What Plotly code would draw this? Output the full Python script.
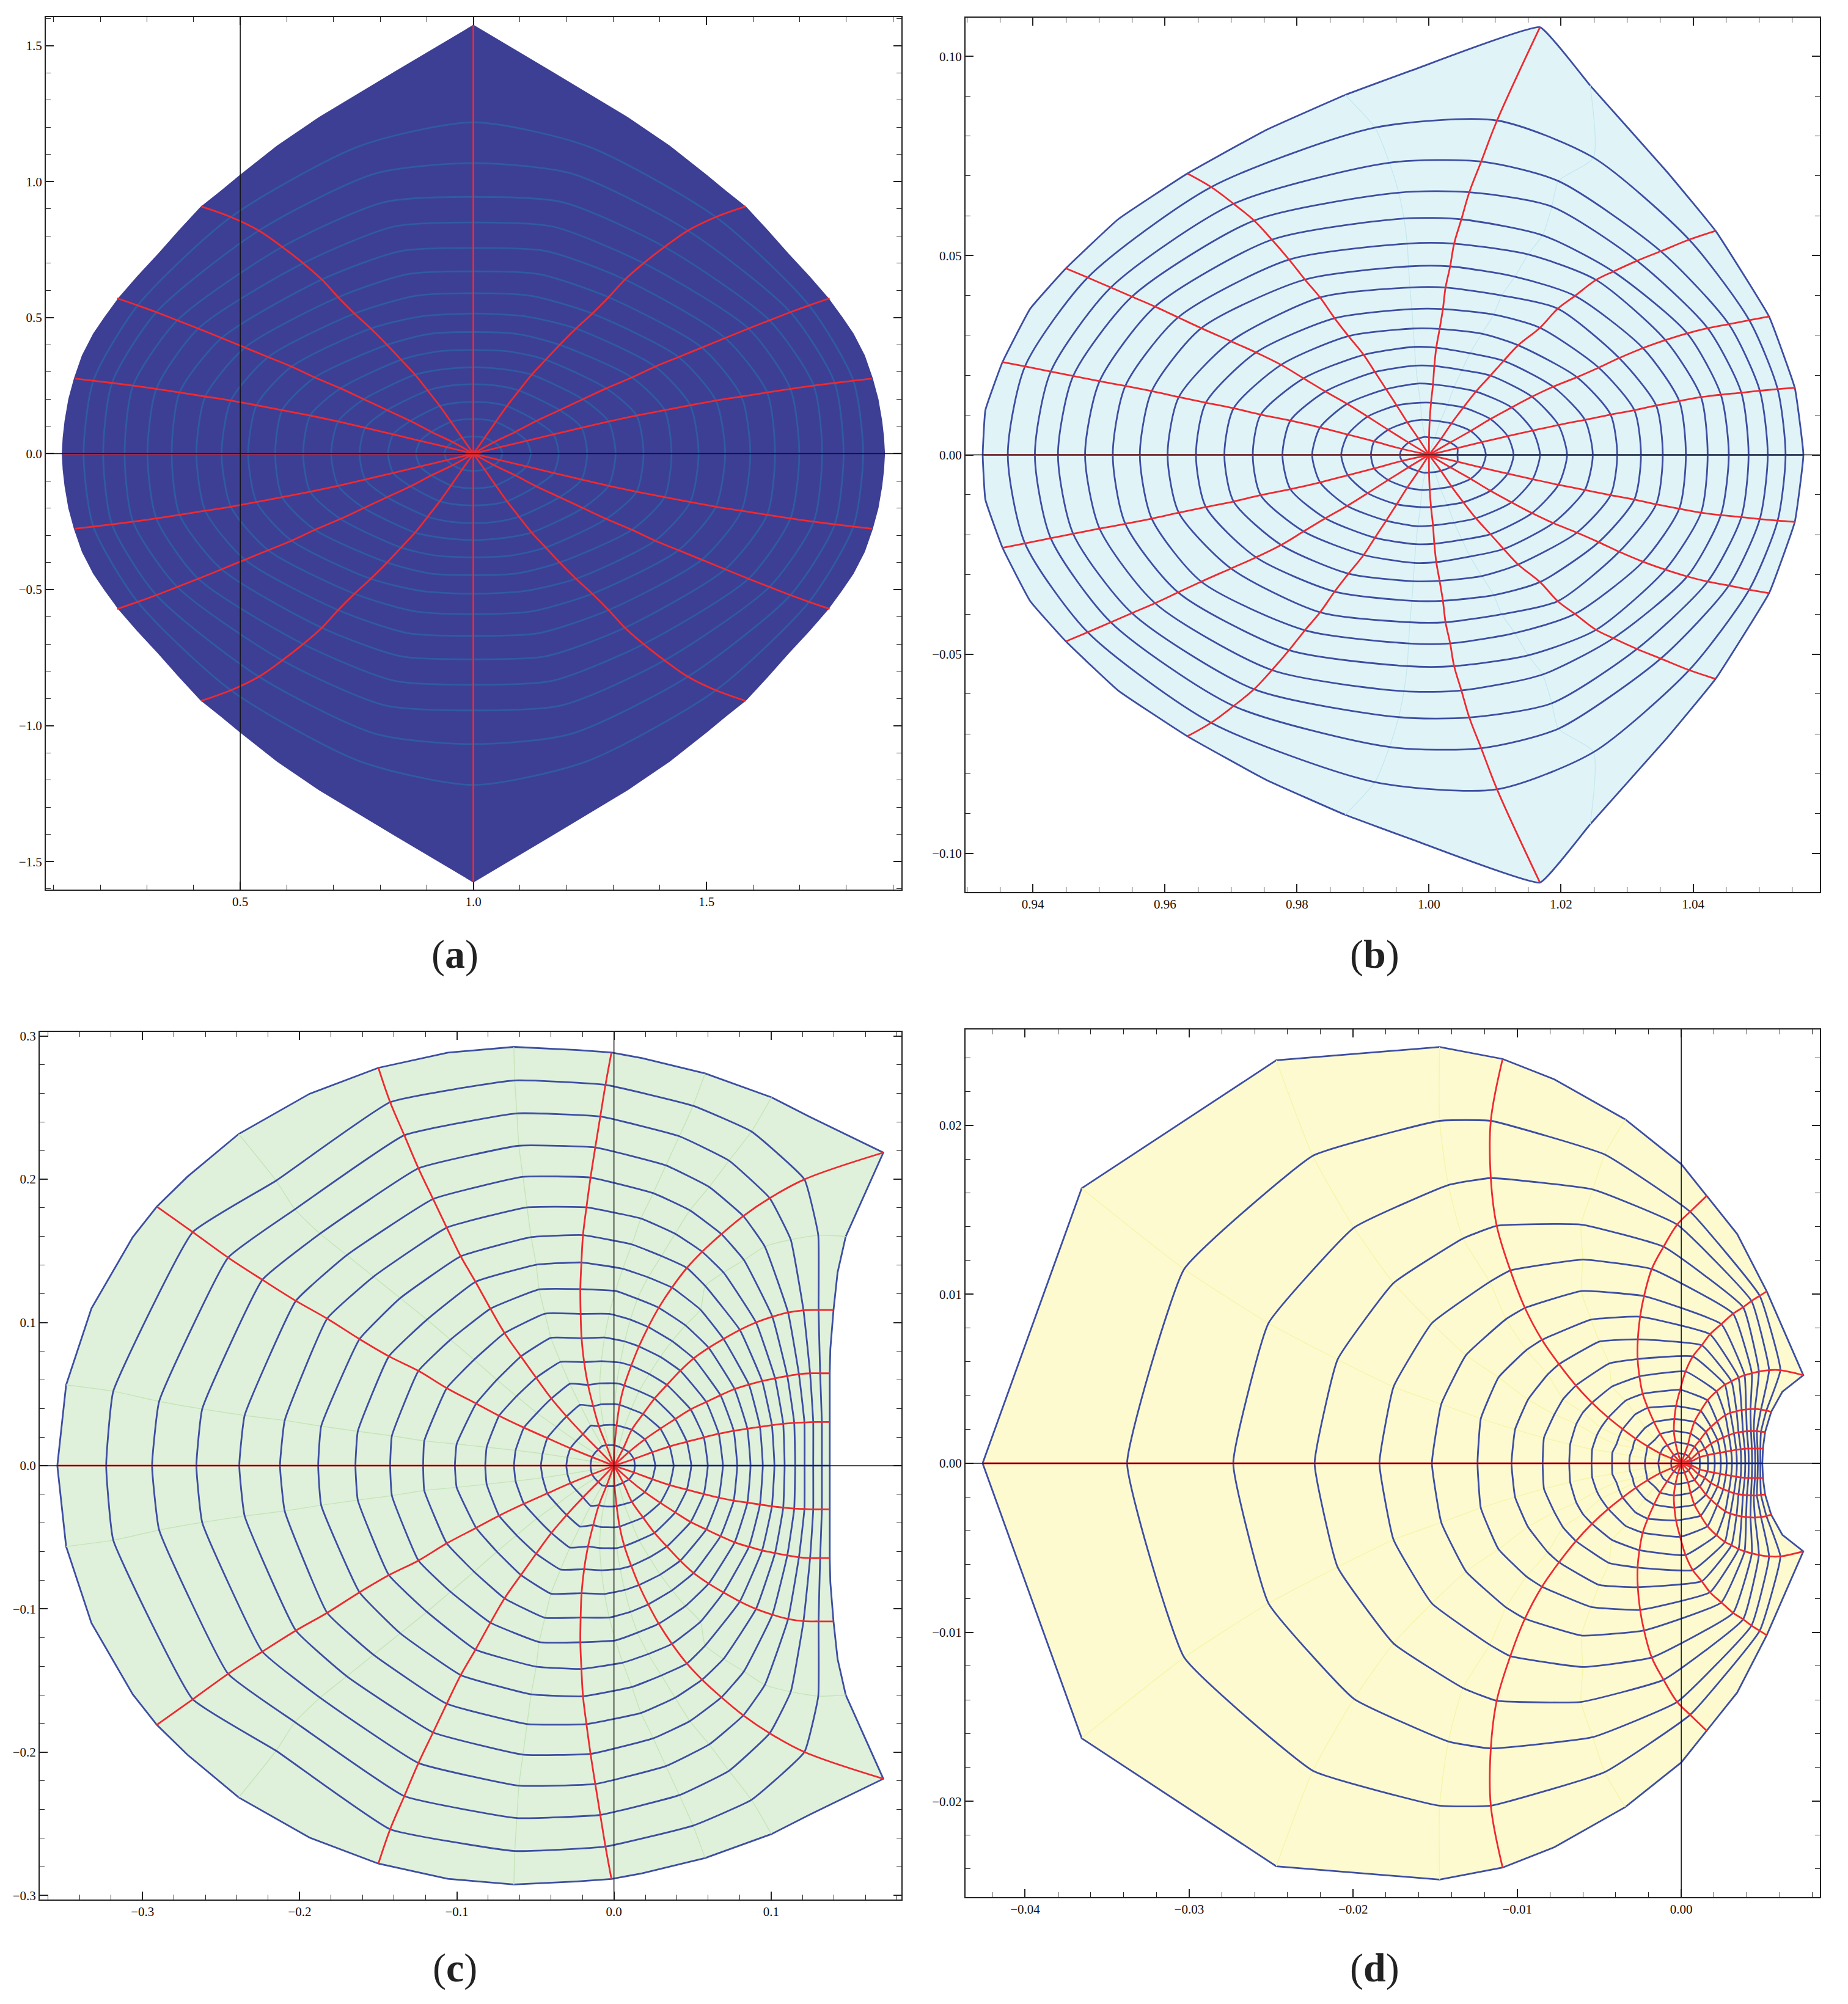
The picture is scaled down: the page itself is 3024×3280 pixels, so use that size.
import numpy as np
import plotly.graph_objects as go

# every column runs from the outer boundary (first value) to the innermost ring (last value)
# values are offsets from the centre point of each panel
zero = [0] * 16

# panel a, left half (the right half is its mirror image)
a_bx = [-.881, -.879, -.875, -.867, -.855, -.838, -.814, -.79, -.76, -.72, -.675, -.63, -.584, -.54, -.5, -.42, -.33, -.165, 0]
a_by = [0, .06, .12, .2, .276, .36, .44, .5, .571, .65, .733, .82, .905, .965, 1.022, 1.13, 1.235, 1.405, 1.573]
a_0x = [-.881, -.836, -.794, -.748, -.699, -.647, -.594, -.540, -.483, -.425, -.365, -.305, -.244, -.183, -.123, -.062]
a_1x = [-.855, -.815, -.775, -.73, -.68, -.63, -.575, -.52, -.465, -.41, -.35, -.29, -.232, -.172, -.114, -.057]
a_1y = [.276, .268, .26, .25, .238, .225, .21, .195, .178, .16, .14, .118, .095, .071, .047, .024]
a_2x = [-.764, -.72, -.68, -.635, -.59, -.54, -.49, -.44, -.39, -.34, -.285, -.235, -.185, -.135, -.09, -.044]
a_2y = [.571, .545, .52, .49, .46, .425, .39, .355, .32, .28, .24, .2, .16, .12, .08, .042]
a_3x = [-.584, -.52, -.46, -.41, -.365, -.325, -.29, -.255, -.22, -.185, -.155, -.125, -.098, -.072, -.048, -.024]
a_3y = [.909, .87, .82, .76, .70, .64, .575, .515, .46, .40, .345, .29, .232, .175, .117, .058]
a_mx = [-.33, -.245, -.21, -.19, -.17, -.155, -.14, -.125, -.11, -.095, -.08, -.065, -.05, -.037, -.025, -.012]
a_my = [1.235, 1.13, 1.03, .925, .835, .745, .66, .58, .505, .44, .375, .31, .25, .187, .125, .062]
a_4y = [1.573, 1.218, 1.068, .944, .85, .756, .67, .59, .515, .447, .381, .318, .255, .19, .127, .063]

# panel b
b_bx = [-.0676, -.0672, -.0646, -.0604, -.0550, -.0471, -.0366, -.0247, -.0127, -.0024, .0168, .0244, .0360, .0434, .0515, .0554, .0567]
b_by = [0, .0112, .0233, .0367, .0468, .0591, .0706, .0815, .0903, .0966, .1073, .0927, .0711, .0562, .0347, .0168, 0]
b_0x = [-.0676, -.0638, -.0597, -.0562, -.0521, -.0479, -.0438, -.0396, -.0353, -.0310, -.0267, -.0222, -.0177, -.0133, -.0088, -.0044]
b_1x = [-.0646, -.0612, -.0573, -.0539, -.0499, -.0460, -.0420, -.0379, -.0338, -.0296, -.0255, -.0210, -.0165, -.0123, -.0083, -.0041]
b_1y = [.0233, .0222, .0209, .0198, .0185, .0173, .0160, .0145, .0131, .0117, .0101, .0086, .0069, .0051, .0034, .0015]
b_2x = [-.0550, -.0517, -.0482, -.0450, -.0415, -.0380, -.0345, -.0300, -.0262, -.0224, -.0190, -.0157, -.0124, -.0093, -.0062, -.0031]
b_2y = [.0468, .0445, .0420, .0397, .0372, .0345, .0318, .0285, .0257, .0226, .0192, .0159, .0128, .0096, .0063, .0031]
b_3x = [-.0366, -.0330, -.0296, -.0265, -.0238, -.0212, -.0188, -.0165, -.0143, -.0122, -.0099, -.0082, -.0065, -.0049, -.0033, -.0016]
b_3y = [.0706, .0672, .0630, .0588, .0540, .0490, .0440, .0395, .0343, .0298, .0251, .0208, .0165, .0124, .0082, .0041]
b_mx = [-.0127, -.0082, -.0060, -.0046, -.0038, -.0033, -.0031, -.0029, -.0026, -.0024, -.0022, -.0020, -.0017, -.0013, -.0011, -.0006]
b_my = [.0903, .0821, .0733, .0658, .0593, .0530, .0473, .0420, .0366, .0317, .0271, .0224, .0179, .0131, .0088, .0045]
b_4x = [.0168, .0103, .0079, .0061, .0049, .0038, .0032, .0025, .0021, .0016, .0011, .0008, .0006, .0003, .0001, 0]
b_4y = [.1073, .0839, .0736, .0659, .0591, .0530, .0473, .0420, .0366, .0316, .0269, .0223, .0177, .0131, .0087, .0044]
b_nx = [.0244, .0249, .0196, .0186, .0172, .0150, .0130, .0110, .0098, .0080, .0062, .0050, .0038, .0028, .0017, .0009]
b_ny = [.0927, .0746, .0687, .0623, .0551, .0503, .0447, .0400, .0352, .0304, .0255, .0213, .0170, .0126, .0084, .0043]
b_5x = [.0434, .0394, .0351, .0315, .0279, .0253, .0221, .0195, .0168, .0135, .0113, .0093, .0071, .0052, .0034, .0018]
b_5y = [.0562, .0540, .0511, .0487, .0460, .0439, .0399, .0367, .0319, .0275, .0236, .0199, .0159, .0119, .0079, .0040]
b_6x = [.0515, .0485, .0454, .0422, .0391, .0358, .0324, .0288, .0257, .0224, .0188, .0156, .0125, .0093, .0063, .0032]
b_6y = [.0347, .0338, .0328, .0318, .0305, .0288, .0268, .0243, .0219, .0195, .0171, .0146, .0119, .0090, .0060, .0031]
b_7x = [.0554, .0528, .0501, .0473, .0442, .0412, .0379, .0344, .0311, .0275, .0236, .0196, .0157, .0119, .0080, .0043]
b_7y = [.0168, .0165, .0161, .0156, .0151, .0145, .0135, .0124, .0112, .0101, .0088, .0075, .0061, .0047, .0032, .0017]
b_8x = [.0567, .0540, .0513, .0484, .0454, .0422, .0389, .0354, .0321, .0285, .0248, .0209, .0168, .0128, .0086, .0043]

# panel c
c_bx = [-.3542, -.3486, -.3325, -.3062, -.2909, -.2714, -.2388, -.1938, -.1499, -.1057, -.0637, -.0232, -.0016, .0179, .0580, .1002, .1248, .1714, .1475, .1423, .1397, .1377, .1373, .1373, .1373]
c_by = [0, .0564, .1098, .1596, .1809, .2018, .2316, .2596, .2778, .2884, .2924, .2902, .2885, .2846, .2739, .2572, .2435, .2186, .1601, .1349, .1087, .0815, .0645, .0305, 0]
c_0x = [-.3542, -.3231, -.2939, -.2657, -.2384, -.2125, -.1882, -.1645, -.1424, -.1214, -.1012, -.0819, -.0636, -.0465, -.0303, -.0149]
c_ax = [-.3486, -.3186, -.2894, -.2620, -.2350, -.2095, -.1863, -.1630, -.1413, -.1207, -.1001, -.0810, -.0626, -.0454, -.0296, -.0146]
c_ay = [.0564, .0520, .0449, .0396, .0351, .0316, .0276, .0240, .0209, .0173, .0151, .0129, .0107, .0084, .0058, .0031]
c_1x = [-.2909, -.2680, -.2455, -.2237, -.2024, -.1825, -.1619, -.1432, -.1244, -.1064, -.0877, -.0731, -.0573, -.0424, -.0277, -.0139]
c_1y = [.1809, .1631, .1453, .1298, .1151, .1027, .0884, .0764, .0662, .0542, .0434, .0349, .0266, .0193, .0122, .0060]
c_gx = [-.2388, -.2150, -.2030, -.1870, -.1700, -.1530, -.1360, -.1190, -.1040, -.0890, -.0745, -.0620, -.0490, -.0365, -.0240, -.0122]
c_gy = [.2316, .1990, .1790, .1620, .1470, .1320, .1170, .1020, .0880, .0740, .0600, .0485, .0368, .0270, .0172, .0088]
c_2x = [-.1499, -.1424, -.1334, -.1244, -.1151, -.1064, -.0975, -.0881, -.0786, -.0696, -.0592, -.0495, -.0398, -.0301, -.0197, -.0100]
c_2y = [.2778, .2538, .2307, .2076, .1862, .1662, .1462, .1284, .1096, .0926, .0763, .0614, .0469, .0344, .0221, .0113]
c_px = [-.0637, -.0631, -.0618, -.0605, -.0579, -.0553, -.0527, -.0495, -.0476, -.0439, -.0401, -.0340, -.0280, -.0215, -.0148, -.0074]
c_py = [.2924, .2690, .2460, .2234, .2017, .1804, .1596, .1403, .1231, .1062, .0893, .0725, .0572, .0425, .0280, .0138]
c_3x = [-.0016, -.0054, -.0087, -.0119, -.0149, -.0175, -.0197, -.0207, -.0214, -.0212, -.0206, -.0190, -.0165, -.0132, -.0096, -.0048]
c_3y = [.2885, .2659, .2438, .2222, .2012, .1804, .1610, .1419, .1233, .1060, .0890, .0723, .0564, .0415, .0276, .0142]
c_vx = [.0580, .0503, .0416, .0330, .0250, .0172, .0114, .0056, .0010, -.0030, -.0060, -.0080, -.0090, -.0085, -.0065, -.0033]
c_vy = [.2739, .2513, .2300, .2097, .1903, .1726, .1545, .1375, .1220, .1060, .0895, .0730, .0575, .0428, .0283, .0143]
c_qx = [.1002, .0875, .0732, .0606, .0483, .0389, .0302, .0218, .0150, .0105, .0068, .0040, .0018, .0005, -.0008, -.0008]
c_qy = [.2572, .2333, .2130, .1946, .1783, .1620, .1464, .1315, .1165, .1020, .0868, .0720, .0575, .0430, .0285, .0143]
c_4x = [.1714, .1212, .0991, .0823, .0684, .0561, .0464, .0369, .0285, .0218, .0159, .0110, .0066, .0036, .0017, .0004]
c_4y = [.2186, .1999, .1868, .1743, .1617, .1494, .1381, .1244, .1103, .0968, .0833, .0699, .0561, .0425, .0281, .0142]
c_ux = [.1475, .1300, .1125, .0960, .0827, .0697, .0581, .0550, .0455, .0370, .0295, .0225, .0160, .0110, .0065, .0031]
c_uy = [.1601, .1609, .1578, .1530, .1436, .1349, .1255, .1090, .0980, .0870, .0760, .0640, .0520, .0395, .0268, .0132]
c_5x = [.1397, .1302, .1206, .1108, .1008, .0904, .0801, .0697, .0603, .0507, .0422, .0337, .0258, .0185, .0114, .0058]
c_5y = [.1087, .1087, .1085, .1070, .1040, .1000, .0948, .0885, .0823, .0749, .0663, .0564, .0469, .0361, .0252, .0118]
c_6x = [.1373, .1312, .1248, .1177, .1103, .1025, .0943, .0859, .0768, .0678, .0587, .0488, .0390, .0295, .0196, .0095]
c_6y = [.0645, .0645, .0645, .0639, .0626, .0610, .0591, .0566, .0535, .0492, .0445, .0393, .0326, .0259, .0184, .0096]
c_7x = [.1373, .1323, .1268, .1212, .1147, .1077, .1005, .0929, .0849, .0762, .0667, .0572, .0464, .0354, .0244, .0127]
c_7y = [.0305, .0305, .0305, .0302, .0299, .0293, .0283, .0271, .0258, .0244, .0223, .0198, .0167, .0135, .0094, .0047]
c_8x = [.1373, .1323, .1268, .1213, .1153, .1086, .1021, .0947, .0869, .0784, .0693, .0597, .0492, .0380, .0263, .0133]

# panel d
d_bx = [-.04259, -.03655, -.02469, -.01473, -.01089, -.00773, -.00341, 0, .00155, .00341, .00521, .00744, .00616, .00548, .00511, .00498, .00494]
d_by = [0, .01627, .02384, .02463, .02392, .02271, .02034, .0177, .01582, .01356, .01017, .00521, .00423, .00304, .00185, .00089, 0]
d_0x = [-.04259, -.03378, -.02731, -.02235, -.01840, -.01520, -.01242, -.01035, -.00845, -.00683, -.00547, -.00422, -.00317, -.00222, -.0014, -.00062]
d_ax = [-.03655, -.03030, -.02516, -.02095, -.01754, -.01463, -.01222, -.01013, -.00837, -.00677, -.00543, -.00420, -.00313, -.00219, -.00137, -.00061]
d_ay = [.01627, .01149, .00829, .00614, .00452, .00350, .00264, .00200, .00151, .00112, .00083, .00064, .00045, .00030, .00019, .00011]
d_gx = [-.02469, -.02246, -.01995, -.01754, -.01520, -.01312, -.01114, -.00934, -.00773, -.0064, -.00515, -.00395, -.00295, -.00212, -.00133, -.00060]
d_gy = [.02384, .01819, .01394, .01066, .00829, .00640, .00508, .00377, .00290, .00232, .00165, .00113, .00092, .00068, .00040, .00020]
d_px = [-.01473, -.01473, -.01420, -.01330, -.01168, -.01068, -.00944, -.00814, -.0072, -.0060, -.0049, -.00378, -.0029, -.0021, -.00131, -.00059]
d_py = [.02463, .02026, .01646, .01330, .01073, .00853, .0067, .00526, .0038, .0030, .0021, .0016, .00118, .00082, .00050, .00024]
d_1x = [-.01089, -.01161, -.01161, -.01125, -.01042, -.00953, -.00849, -.00745, -.00642, -.00544, -.00445, -.00357, -.00277, -.00205, -.00128, -.00058]
d_1y = [.02392, .02026, .01687, .01405, .01141, .00919, .00730, .00586, .00460, .00358, .00270, .00202, .00145, .00100, .00058, .00028]
d_qx = [-.00341, -.00467, -.00539, -.00611, -.00600, -.00609, -.0055, -.0050, -.0044, -.00422, -.0034, -.0028, -.0022, -.0016, -.0011, -.00055]
d_qy = [.02034, .01827, .01620, .01412, .01205, .01019, .0085, .0072, .0059, .00454, .0037, .0029, .0021, .0014, .0009, .00038]
d_2x = [.00155, .00054, -.00025, -.00108, -.00180, -.00227, -.00251, -.00265, -.00266, -.00255, -.00235, -.00204, -.00166, -.00129, -.00086, -.00045]
d_2y = [.01582, .01488, .01412, .01281, .01149, .00989, .00867, .00733, .00617, .00514, .00411, .00328, .00244, .00173, .00107, .00048]
d_3x = [.00521, .00478, .00428, .00377, .00316, .00244, .00175, .00125, .0007, .00026, -.00007, -.00032, -.00042, -.00045, -.00036, -.0002]
d_3y = [.01017, .00991, .00960, .00923, .00885, .00823, .00763, .00698, .00632, .00543, .00435, .00338, .00262, .00191, .00125, .0006]
d_4x = [.00744, .00604, .00535, .00473, .0043, .00386, .00349, .00306, .00266, .00214, .00160, .00118, .00080, .00057, .00041, .0002]
d_4y = [.00521, .00551, .00551, .00543, .00533, .00521, .00507, .00485, .00465, .00425, .00372, .00310, .00245, .00175, .00113, .00054]
d_5x = [.00548, .00519, .00486, .00449, .00422, .00395, .00368, .00337, .00299, .00268, .00219, .00181, .0015, .00113, .00081, .00043]
d_5y = [.00304, .00312, .00318, .00321, .00320, .00318, .00315, .00308, .00298, .00284, .00248, .00215, .00185, .00137, .00098, .00042]
d_6x = [.00511, .00486, .00461, .00442, .00425, .00400, .00376, .00349, .00321, .0029, .00256, .00221, .00181, .00143, .00105, .00057]
d_6y = [.00185, .00187, .0019, .00191, .0019, .00189, .00187, .00183, .00177, .00166, .00153, .00137, .00116, .00087, .00065, .00024]
d_7x = [.00498, .00482, .00465, .00449, .0043, .00409, .00387, .00362, .00335, .00304, .00272, .00237, .002, .0016, .00112, .00061]
d_7y = [.00087, .00087, .00087, .00087, .00087, .00087, .00086, .00083, .0008, .00074, .00069, .00062, .00056, .00048, .00036, .00012]
d_8x = [.00494, .00482, .00467, .00451, .00432, .00411, .00390, .00365, .00339, .00309, .00277, .00241, .00204, .00163, .00113, .00063]

W, H = 3024, 3280
PAGE = 8  # the page body margin shifts the figure by this much
BLUE, RED = "#3d4ea3", "#ee2a30"

a_left = [(a_0x, zero), (a_1x, a_1y), (a_2x, a_2y), (a_3x, a_3y), (a_mx, a_my), (zero, a_4y)]
a_right = [(list(-np.array(x)), y) for x, y in a_left[-2::-1]]

panels = [
    dict(name="a", cx=1.0, bx=a_bx + [-v for v in a_bx[-2::-1]], by=a_by + a_by[-2::-1],
         cols=a_left + a_right, rays=[0, 1, 2, 3, 5, 7, 8, 9], line="#2f5ba3", edge="#3d3f95",
         fill="#3d3f95", spoke="#3d3f95", box=(75, 1475, 23, 1456), xr=(.083, 1.918), yr=(-1.603, 1.605),
         xd=.5, xm=.1, yd=.5, ym=.1, xf=".1f", yf=".1f", vline=.5, lab=(744, 1562), smooth=.7, edge_s=0),
    dict(name="b", cx=1.0, bx=b_bx, by=b_by,
         cols=[(b_0x, zero), (b_1x, b_1y), (b_2x, b_2y), (b_3x, b_3y), (b_mx, b_my), (b_4x, b_4y),
               (b_nx, b_ny), (b_5x, b_5y), (b_6x, b_6y), (b_7x, b_7y), (b_8x, zero)],
         rays=[0, 1, 2, 3, 5, 7, 8, 9], line=BLUE, edge=BLUE, fill="#e0f4f8", spoke="#c4e8ee",
         box=(1580, 2978, 24, 1460), xr=(.9298, 1.0592), yr=(-.1097, .1097),
         xd=.02, xm=.005, yd=.05, ym=.01, xf=".2f", yf=".2f", vline=None, lab=(2249, 1562), smooth=.7, edge_s=.3),
    dict(name="c", cx=0.0, bx=c_bx, by=c_by,
         cols=[(c_0x, zero), (c_ax, c_ay), (c_1x, c_1y), (c_gx, c_gy), (c_2x, c_2y), (c_px, c_py), (c_3x, c_3y),
               (c_vx, c_vy), (c_qx, c_qy), (c_4x, c_4y), (c_ux, c_uy), (c_5x, c_5y), (c_6x, c_6y), (c_7x, c_7y),
               (c_8x, zero)],
         rays=[0, 2, 4, 6, 9, 11, 12, 13], line=BLUE, edge=BLUE, fill="#dff1da", spoke="#c5e4b8",
         box=(65, 1475, 1690, 3114), xr=(-.3654, .1829), yr=(-.3027, .3027),
         xd=.1, xm=.02, yd=.1, ym=.02, xf=".1f", yf=".1f", vline=0, lab=(744, 3227), smooth=.35, edge_s=0),
    dict(name="d", cx=0.0, bx=d_bx, by=d_by,
         cols=[(d_0x, zero), (d_ax, d_ay), (d_gx, d_gy), (d_px, d_py), (d_1x, d_1y), (d_qx, d_qy), (d_2x, d_2y),
               (d_3x, d_3y), (d_4x, d_4y), (d_5x, d_5y), (d_6x, d_6y), (d_7x, d_7y), (d_8x, zero)],
         rays=[0, 4, 6, 7, 8, 9, 10, 11], line=BLUE, edge=BLUE, fill="#fdfad0", spoke="#f6f5a8",
         box=(1580, 2978, 1686, 3110), xr=(-.04363, .00845), yr=(-.02565, .02565),
         xd=.01, xm=.002, yd=.01, ym=.002, xf=".2f", yf=".2f", vline=0, lab=(2249, 3227), smooth=.35, edge_s=0),
]

fig = go.Figure()
shapes, notes = [], []


def add_line(sx, x, y, color, width, smooth=0.0):
    ln = dict(color=color, width=width)
    if smooth:
        ln.update(shape="spline", smoothing=smooth)
    fig.add_trace(go.Scatter(x=x, y=y, xaxis=f"x{sx}", yaxis=f"y{sx}", mode="lines", line=ln,
                             hoverinfo="skip", showlegend=False))


for n, p in enumerate(panels, start=1):
    sx = "" if n == 1 else str(n)
    cx = p["cx"]
    bx, by = np.array(p["bx"]), np.array(p["by"])
    # outline: top edge, then the same edge flipped under the x axis
    ox = cx + np.r_[bx, bx[-2::-1]]
    oy = np.r_[by, -by[-2::-1]]
    edge = dict(color=p["edge"], width=2.8)
    if p["edge_s"]:
        edge.update(shape="spline", smoothing=p["edge_s"])
    fig.add_trace(go.Scatter(x=ox, y=oy, xaxis=f"x{sx}", yaxis=f"y{sx}", mode="lines", fill="toself",
                             fillcolor=p["fill"], line=edge, hoverinfo="skip", showlegend=False))

    cols = [(np.array(x, float), np.array(y, float)) for x, y in p["cols"]]

    for j, (dx, dy) in enumerate(cols):
        if j not in p["rays"] and j != len(cols) - 1 and p["name"] != "a":
            px, py = np.r_[dx, 0], np.r_[dy, 0]
            add_line(sx, cx + np.r_[px, px[-2::-1]], np.r_[py, -py[-2::-1]], p["spoke"], 1.4, 0.6)

    for k in range(1, 16):
        rx = np.array([c[0][k] for c in cols])
        ry = np.array([c[1][k] for c in cols])
        add_line(sx, cx + np.r_[rx, rx[-2::-1]], np.r_[ry, -ry[-2::-1]], p["line"], 2.8, p["smooth"])

    if p["name"] != "a":
        add_line(sx, cx + np.r_[cols[-1][0], 0], np.r_[cols[-1][1], 0], BLUE, 2.8)
    for j in p["rays"]:
        dx, dy = cols[j]
        add_line(sx, cx + np.r_[dx, 0], np.r_[dy, 0], RED, 2.8, 1.0)
        if dy[0] != 0:
            add_line(sx, cx + np.r_[dx, 0], -np.r_[dy, 0], RED, 2.8, 1.0)

    x0, x1, y0, y1 = p["box"]
    x0, x1, y0, y1 = x0 - PAGE, x1 - PAGE, y0 - PAGE, y1 - PAGE
    common = dict(showline=True, linecolor="#222222", linewidth=2, mirror="allticks", ticks="inside",
                  ticklen=13, tickwidth=1.6, tickcolor="#222222", showgrid=False, zeroline=False,
                  tickfont=dict(family="Liberation Serif", size=21, color="#111111"))
    fig.update_layout(**{
        f"xaxis{sx}": dict(common, domain=[x0 / W, x1 / W], range=list(p["xr"]), anchor=f"y{sx}", tick0=0,
                           dtick=p["xd"], tickformat=p["xf"],
                           minor=dict(ticks="inside", dtick=p["xm"], ticklen=8, tickwidth=1.2, tickcolor="#222222")),
        f"yaxis{sx}": dict(common, domain=[1 - y1 / H, 1 - y0 / H], range=list(p["yr"]), anchor=f"x{sx}", tick0=0,
                           dtick=p["yd"], tickformat=p["yf"],
                           minor=dict(ticks="inside", dtick=p["ym"], ticklen=8, tickwidth=1.2, tickcolor="#222222")),
    })

    shapes.append(dict(type="line", xref=f"x{sx} domain", x0=0, x1=1, yref=f"y{sx}", y0=0, y1=0,
                       line=dict(color="#111111", width=1.5), layer="above"))
    if p["vline"] is not None:
        shapes.append(dict(type="line", yref=f"y{sx} domain", y0=0, y1=1, xref=f"x{sx}", x0=p["vline"], x1=p["vline"],
                           line=dict(color="#111111", width=1.5), layer="above"))
    notes.append(dict(text=f"(<b>{p['name']}</b>)", xref="paper", yref="paper", x=(p["lab"][0] - PAGE) / W,
                      y=1 - (p["lab"][1] - PAGE) / H, showarrow=False, xanchor="center", yanchor="middle",
                      font=dict(family="Liberation Serif", size=66, color="#222222")))

fig.update_layout(width=W, height=H, autosize=False, margin=dict(l=0, r=0, t=0, b=0), paper_bgcolor="white",
                  plot_bgcolor="white", showlegend=False, shapes=shapes, annotations=notes)
fig.write_html("out.html")
